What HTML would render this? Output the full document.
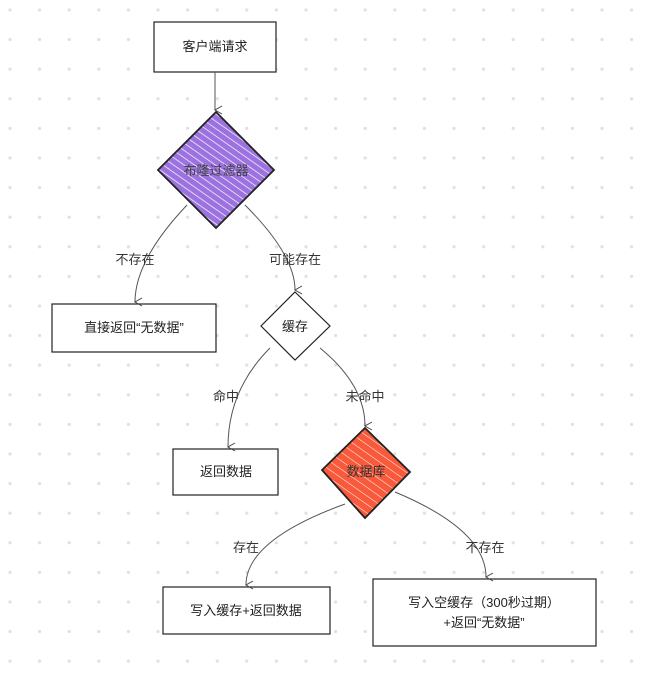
<!DOCTYPE html>
<html><head><meta charset="utf-8"><style>
body{margin:0;width:646px;height:677px;background:#fff;overflow:hidden;font-family:"Liberation Sans","Noto Sans CJK SC",sans-serif}
</style></head><body>
<svg width="646" height="677" xmlns="http://www.w3.org/2000/svg" font-family="Liberation Sans, Noto Sans CJK SC, sans-serif">
<defs>
<pattern id="dots" x="8" y="8" width="29.6" height="29.6" patternUnits="userSpaceOnUse"><circle cx="2" cy="2" r="1.6" fill="#e0e0e0"/></pattern>
<pattern id="hp" width="6" height="6" patternUnits="userSpaceOnUse" patternTransform="rotate(-55)"><rect width="6" height="6" fill="#9b72e0"/><line x1="0" y1="0" x2="0" y2="6" stroke="#fff" stroke-width="1.4"/></pattern>
<pattern id="hr" width="7" height="7" patternUnits="userSpaceOnUse" patternTransform="rotate(-55)"><rect width="7" height="7" fill="#fa5a3c"/><line x1="0" y1="0" x2="0" y2="7" stroke="#fff" stroke-width="1"/></pattern>
<marker id="a" markerWidth="10" markerHeight="10" refX="5" refY="8" orient="auto" markerUnits="userSpaceOnUse"><path d="M1,1 L5,8 L9,1" fill="none" stroke="#444" stroke-width="1"/></marker>
</defs>
<rect width="646" height="677" fill="url(#dots)"/>
<g fill="none" stroke="#222" stroke-width="1.2">
<rect x="154" y="22" width="122" height="50" fill="#fff"/>
<rect x="52" y="304" width="164" height="48" fill="#fff"/>
<rect x="173" y="449" width="105" height="46" fill="#fff"/>
<rect x="163" y="587" width="167" height="47" fill="#fff"/>
<rect x="373" y="579" width="223" height="67" fill="#fff"/>
<polygon points="216,112 274,170 216,228 158,170" fill="url(#hp)" stroke-width="1.8"/>
<polygon points="295,292 330,326 295,360 261,326" fill="#fff"/>
<polygon points="365,428 410,472 365,518 322,470" fill="url(#hr)" stroke-width="1.8"/>
</g>
<g fill="none" stroke="#555" stroke-width="1" marker-end="url(#a)">
<path d="M215,72 L215,110"/>
<path d="M187,205 Q135,260 135,302"/>
<path d="M245,205 Q295,255 295,290"/>
<path d="M270,348 Q228,390 228,447"/>
<path d="M320,348 Q365,385 365,426"/>
<path d="M345,504 Q246,540 246,585"/>
<path d="M395,492 Q486,530 486,577"/>
</g>
<g font-size="13" fill="#222" text-anchor="middle">
<text x="215" y="51">客户端请求</text>
<text x="216" y="175" fill="#444">布隆过滤器</text>
<text x="134" y="332">直接返回“无数据”</text>
<text x="295" y="331">缓存</text>
<text x="226" y="476">返回数据</text>
<text x="366" y="476" fill="#333">数据库</text>
<text x="246" y="615">写入缓存+返回数据</text>
<text x="484" y="607">写入空缓存（300秒过期）</text>
<text x="484" y="627">+返回“无数据”</text>
<g fill="#333">
<text x="135" y="264">不存在</text>
<text x="295" y="264">可能存在</text>
<text x="226" y="401">命中</text>
<text x="365" y="401">未命中</text>
<text x="246" y="552">存在</text>
<text x="485" y="552">不存在</text>
</g></g>
</svg>
</body></html>
